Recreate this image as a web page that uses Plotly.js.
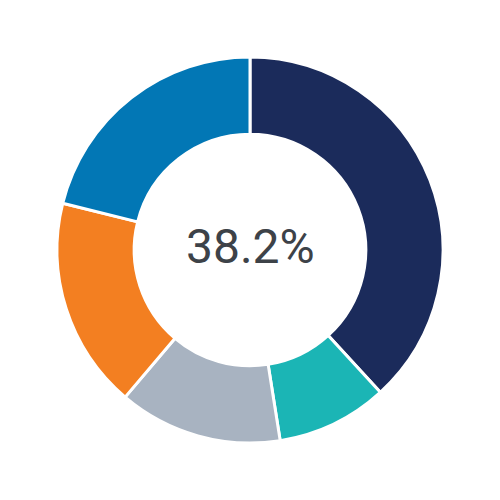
<!DOCTYPE html>
<html>
<head>
<meta charset="utf-8">
<script src="https://cdn.plot.ly/plotly-3.0.1.min.js"></script>
<style>
  html, body { margin: 0; padding: 0; background: #fff; }
  #chart { width: 500px; height: 500px; }
</style>
</head>
<body>
<div id="chart"></div>
<script>
const labels = ['A', 'B', 'C', 'D', 'E'];
const shares = [38.2, 9.3, 13.7, 17.7, 21.1];
const sliceColors = ['#1b2b5b', '#1bb5b5', '#a8b3c1', '#f37f21', '#0277b5'];
const centerLabel = '38.2%';

const trace = {
  type: 'pie',
  labels: labels,
  values: shares,
  hole: 0.6,
  sort: false,
  direction: 'clockwise',
  rotation: 0,
  textinfo: 'none',
  hoverinfo: 'none',
  marker: {
    colors: sliceColors,
    line: { color: '#ffffff', width: 3 }
  }
};

const layout = {
  width: 500,
  height: 500,
  margin: { l: 57, r: 57, t: 57, b: 57 },
  showlegend: false,
  paper_bgcolor: '#ffffff',
  annotations: [{
    text: centerLabel,
    x: 0.5,
    y: 0.5,
    xref: 'paper',
    yref: 'paper',
    yshift: 4,
    showarrow: false,
    font: { family: 'Roboto, Arial, sans-serif', size: 48, color: '#3d4248' }
  }]
};

Plotly.newPlot('chart', [trace], layout, { displayModeBar: false, staticPlot: true });
</script>
</body>
</html>
